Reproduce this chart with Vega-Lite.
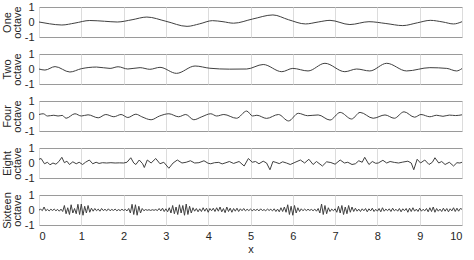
{
  "$schema": "https://vega.github.io/schema/vega-lite/v6.json",
  "padding": {"left": 0, "top": 0, "right": 12, "bottom": 4},
  "spacing": 17,
  "bounds": "flush",
  "config": {
    "font": "Liberation Sans",
    "view": {"stroke": "#9a9a9a", "strokeWidth": 1},
    "axis": {"labelFont": "Liberation Sans", "titleFont": "Liberation Sans", "labelColor": "#262626", "titleColor": "#262626", "gridColor": "#dcdcdc", "gridWidth": 1, "labelFontSize": 11, "titleFontSize": 11, "titleFontWeight": "normal", "labelOverlap": false},
    "axisY": {"labelOverlap": false, "labelFlush": false, "labelBound": false},
    "line": {"color": "#404040", "strokeWidth": 1}
  },
  "datasets": {
    "one": [
      {"x":0,"y":0},{"x":0.25,"y":-0.12},{"x":0.54,"y":-0.2},{"x":0.85,"y":-0.07},{"x":1.2,"y":0.1},{"x":1.55,"y":0.05},{"x":1.85,"y":0.0},{"x":2.2,"y":0.15},{"x":2.55,"y":0.33},{"x":3.0,"y":0.05},{"x":3.5,"y":-0.29},{"x":3.8,"y":-0.12},{"x":4.1,"y":0.09},{"x":4.35,"y":0.02},{"x":4.6,"y":-0.08},{"x":5.05,"y":0.2},{"x":5.53,"y":0.47},{"x":5.9,"y":0.15},{"x":6.3,"y":-0.13},{"x":6.6,"y":0.0},{"x":6.88,"y":0.11},{"x":7.35,"y":-0.17},{"x":7.8,"y":0.02},{"x":8.2,"y":-0.1},{"x":8.6,"y":-0.24},{"x":8.95,"y":-0.05},{"x":9.25,"y":0.11},{"x":9.55,"y":0.0},{"x":9.8,"y":-0.13},{"x":10,"y":0.02}
    ],
    "two": [
      {"x":0,"y":0},{"x":0.14,"y":-0.07},{"x":0.38,"y":0.16},{"x":0.73,"y":-0.2},{"x":1.0,"y":0.02},{"x":1.36,"y":0.13},{"x":1.68,"y":0.04},{"x":1.87,"y":0.15},{"x":2.1,"y":0.0},{"x":2.39,"y":0.09},{"x":2.62,"y":-0.02},{"x":2.86,"y":0.11},{"x":3.25,"y":-0.29},{"x":3.69,"y":0.2},{"x":4.04,"y":0.05},{"x":4.5,"y":-0.01},{"x":4.91,"y":0.0},{"x":5.3,"y":0.3},{"x":5.74,"y":-0.18},{"x":6.0,"y":0.04},{"x":6.36,"y":-0.13},{"x":6.76,"y":0.38},{"x":7.23,"y":-0.18},{"x":7.51,"y":0.0},{"x":7.82,"y":-0.13},{"x":8.22,"y":0.38},{"x":8.69,"y":-0.13},{"x":9.24,"y":0.09},{"x":9.64,"y":0.04},{"x":9.87,"y":-0.13},{"x":10,"y":0.03}
    ],
    "four": [
      {"x":0,"y":0.1},{"x":0.1,"y":0.15},{"x":0.2,"y":0.0},{"x":0.35,"y":0.05},{"x":0.45,"y":0.0},{"x":0.55,"y":0.04},{"x":0.64,"y":-0.15},{"x":0.85,"y":0.15},{"x":1.0,"y":0.0},{"x":1.16,"y":0.08},{"x":1.4,"y":-0.12},{"x":1.58,"y":0.1},{"x":1.77,"y":-0.05},{"x":1.94,"y":0.1},{"x":2.1,"y":-0.1},{"x":2.29,"y":0.12},{"x":2.43,"y":-0.05},{"x":2.65,"y":-0.25},{"x":2.85,"y":0.0},{"x":3.07,"y":0.15},{"x":3.3,"y":-0.05},{"x":3.47,"y":0.1},{"x":3.66,"y":-0.25},{"x":3.85,"y":-0.05},{"x":4.06,"y":0.15},{"x":4.2,"y":0.0},{"x":4.37,"y":0.1},{"x":4.67,"y":-0.15},{"x":4.91,"y":0.33},{"x":5.05,"y":0.0},{"x":5.15,"y":0.05},{"x":5.38,"y":-0.16},{"x":5.66,"y":0.1},{"x":5.9,"y":-0.33},{"x":6.13,"y":0.18},{"x":6.35,"y":0.02},{"x":6.6,"y":0.07},{"x":6.88,"y":-0.27},{"x":7.12,"y":0.24},{"x":7.39,"y":-0.2},{"x":7.59,"y":0.24},{"x":7.9,"y":-0.15},{"x":8.18,"y":0.07},{"x":8.4,"y":-0.15},{"x":8.63,"y":0.28},{"x":8.88,"y":-0.08},{"x":9.03,"y":0.1},{"x":9.24,"y":-0.05},{"x":9.4,"y":0.05},{"x":9.55,"y":-0.02},{"x":9.7,"y":0.06},{"x":9.85,"y":0.03},{"x":10,"y":0.08}
    ],
    "eight": [
      {"x":0,"y":0.25},{"x":0.05,"y":0.3},{"x":0.13,"y":-0.05},{"x":0.2,"y":0.05},{"x":0.26,"y":-0.12},{"x":0.33,"y":0.0},{"x":0.4,"y":-0.08},{"x":0.47,"y":0.1},{"x":0.54,"y":0.38},{"x":0.6,"y":0.02},{"x":0.66,"y":0.12},{"x":0.72,"y":-0.1},{"x":0.8,"y":0.08},{"x":0.88,"y":-0.05},{"x":0.95,"y":0.05},{"x":1.03,"y":-0.1},{"x":1.1,"y":0.05},{"x":1.19,"y":0.2},{"x":1.27,"y":-0.05},{"x":1.35,"y":0.05},{"x":1.42,"y":-0.03},{"x":1.5,"y":0.02},{"x":1.6,"y":0.0},{"x":1.7,"y":0.02},{"x":1.8,"y":0.0},{"x":1.9,"y":0.01},{"x":2.0,"y":0.0},{"x":2.08,"y":0.05},{"x":2.17,"y":0.35},{"x":2.24,"y":0.0},{"x":2.29,"y":-0.1},{"x":2.37,"y":0.2},{"x":2.45,"y":-0.05},{"x":2.49,"y":-0.3},{"x":2.56,"y":0.2},{"x":2.65,"y":0.0},{"x":2.76,"y":0.3},{"x":2.86,"y":-0.05},{"x":2.95,"y":0.05},{"x":3.07,"y":-0.35},{"x":3.17,"y":0.0},{"x":3.27,"y":0.2},{"x":3.38,"y":0.0},{"x":3.48,"y":0.05},{"x":3.58,"y":0.15},{"x":3.68,"y":0.0},{"x":3.78,"y":0.02},{"x":3.9,"y":0.15},{"x":4.0,"y":-0.02},{"x":4.06,"y":-0.05},{"x":4.15,"y":0.02},{"x":4.25,"y":0.04},{"x":4.33,"y":-0.06},{"x":4.42,"y":0.02},{"x":4.5,"y":0.1},{"x":4.6,"y":-0.03},{"x":4.73,"y":0.1},{"x":4.85,"y":-0.2},{"x":4.95,"y":0.3},{"x":5.04,"y":0.05},{"x":5.12,"y":0.1},{"x":5.2,"y":-0.05},{"x":5.3,"y":0.12},{"x":5.38,"y":0.0},{"x":5.46,"y":-0.45},{"x":5.53,"y":0.1},{"x":5.6,"y":0.04},{"x":5.68,"y":-0.04},{"x":5.76,"y":0.08},{"x":5.85,"y":0.0},{"x":5.94,"y":-0.1},{"x":6.05,"y":0.04},{"x":6.18,"y":0.2},{"x":6.28,"y":0.0},{"x":6.38,"y":0.25},{"x":6.48,"y":-0.1},{"x":6.56,"y":0.1},{"x":6.7,"y":-0.2},{"x":6.8,"y":0.08},{"x":6.9,"y":0.03},{"x":7.0,"y":-0.08},{"x":7.12,"y":0.2},{"x":7.22,"y":0.0},{"x":7.3,"y":0.05},{"x":7.4,"y":-0.1},{"x":7.48,"y":-0.05},{"x":7.56,"y":0.15},{"x":7.64,"y":0.05},{"x":7.7,"y":0.38},{"x":7.8,"y":-0.1},{"x":7.88,"y":0.1},{"x":7.96,"y":-0.02},{"x":8.02,"y":0.0},{"x":8.13,"y":0.18},{"x":8.22,"y":0.0},{"x":8.3,"y":0.1},{"x":8.4,"y":0.04},{"x":8.5,"y":0.0},{"x":8.6,"y":0.06},{"x":8.72,"y":0.12},{"x":8.8,"y":0.0},{"x":8.86,"y":-0.45},{"x":8.94,"y":0.25},{"x":9.02,"y":0.0},{"x":9.12,"y":0.2},{"x":9.22,"y":-0.1},{"x":9.3,"y":0.05},{"x":9.36,"y":0.35},{"x":9.45,"y":0.0},{"x":9.52,"y":0.1},{"x":9.6,"y":-0.1},{"x":9.7,"y":0.05},{"x":9.8,"y":-0.2},{"x":9.88,"y":0.02},{"x":9.95,"y":0.0},{"x":10,"y":0.05}
    ],
    "sixteen": [
      {"x":0,"y":0},{"x":0.04,"y":0.05},{"x":0.08,"y":-0.04},{"x":0.12,"y":0.2},{"x":0.16,"y":-0.05},{"x":0.2,"y":0.04},{"x":0.24,"y":-0.06},{"x":0.28,"y":0.05},{"x":0.32,"y":-0.03},{"x":0.36,"y":0.06},{"x":0.4,"y":-0.05},{"x":0.44,"y":0.04},{"x":0.48,"y":-0.08},{"x":0.52,"y":0.06},{"x":0.56,"y":-0.1},{"x":0.6,"y":0.3},{"x":0.64,"y":-0.25},{"x":0.68,"y":0.15},{"x":0.72,"y":-0.3},{"x":0.76,"y":0.35},{"x":0.8,"y":-0.2},{"x":0.84,"y":0.1},{"x":0.88,"y":-0.25},{"x":0.92,"y":0.38},{"x":0.96,"y":-0.3},
      {"x":1.0,"y":0.4},{"x":1.04,"y":-0.35},{"x":1.08,"y":0.25},{"x":1.12,"y":-0.2},{"x":1.16,"y":0.3},{"x":1.2,"y":-0.15},{"x":1.24,"y":0.12},{"x":1.28,"y":-0.08},{"x":1.32,"y":0.1},{"x":1.36,"y":-0.05},{"x":1.4,"y":0.06},{"x":1.44,"y":-0.08},{"x":1.48,"y":0.1},{"x":1.52,"y":-0.04},{"x":1.56,"y":0.05},{"x":1.6,"y":-0.06},{"x":1.64,"y":0.08},{"x":1.68,"y":-0.05},{"x":1.72,"y":0.04},{"x":1.76,"y":-0.03},{"x":1.8,"y":0.06},{"x":1.84,"y":-0.05},{"x":1.88,"y":0.03},{"x":1.92,"y":-0.04},{"x":1.96,"y":0.05},
      {"x":2.0,"y":-0.03},{"x":2.04,"y":0.04},{"x":2.08,"y":-0.06},{"x":2.12,"y":0.1},{"x":2.16,"y":-0.2},{"x":2.2,"y":0.38},{"x":2.24,"y":-0.3},{"x":2.28,"y":0.35},{"x":2.32,"y":-0.35},{"x":2.36,"y":0.25},{"x":2.4,"y":-0.2},{"x":2.44,"y":0.1},{"x":2.48,"y":-0.05},{"x":2.52,"y":0.03},{"x":2.56,"y":-0.02},{"x":2.6,"y":0.02},{"x":2.64,"y":-0.03},{"x":2.68,"y":0.02},{"x":2.72,"y":-0.02},{"x":2.76,"y":0.03},{"x":2.8,"y":-0.04},{"x":2.84,"y":0.1},{"x":2.88,"y":-0.06},{"x":2.92,"y":0.12},{"x":2.96,"y":-0.1},
      {"x":3.0,"y":0.08},{"x":3.04,"y":-0.12},{"x":3.08,"y":0.15},{"x":3.12,"y":-0.2},{"x":3.16,"y":0.3},{"x":3.2,"y":-0.25},{"x":3.24,"y":0.2},{"x":3.28,"y":-0.3},{"x":3.32,"y":0.35},{"x":3.36,"y":-0.2},{"x":3.4,"y":0.3},{"x":3.44,"y":-0.35},{"x":3.48,"y":0.4},{"x":3.52,"y":-0.3},{"x":3.56,"y":0.25},{"x":3.6,"y":-0.2},{"x":3.64,"y":0.15},{"x":3.68,"y":-0.08},{"x":3.72,"y":0.1},{"x":3.76,"y":-0.12},{"x":3.8,"y":0.08},{"x":3.84,"y":-0.1},{"x":3.88,"y":0.15},{"x":3.92,"y":-0.08},{"x":3.96,"y":0.12},
      {"x":4.0,"y":-0.15},{"x":4.04,"y":0.1},{"x":4.08,"y":-0.05},{"x":4.12,"y":0.12},{"x":4.16,"y":-0.1},{"x":4.2,"y":0.15},{"x":4.24,"y":-0.08},{"x":4.28,"y":0.2},{"x":4.32,"y":-0.12},{"x":4.36,"y":0.1},{"x":4.4,"y":-0.18},{"x":4.44,"y":0.2},{"x":4.48,"y":-0.1},{"x":4.52,"y":0.12},{"x":4.56,"y":-0.15},{"x":4.6,"y":0.1},{"x":4.64,"y":-0.08},{"x":4.68,"y":0.12},{"x":4.72,"y":-0.1},{"x":4.76,"y":0.08},{"x":4.8,"y":-0.05},{"x":4.84,"y":0.1},{"x":4.88,"y":-0.06},{"x":4.92,"y":0.05},{"x":4.96,"y":-0.04},
      {"x":5.0,"y":0.06},{"x":5.04,"y":-0.05},{"x":5.08,"y":0.04},{"x":5.12,"y":-0.03},{"x":5.16,"y":0.05},{"x":5.2,"y":-0.06},{"x":5.24,"y":0.08},{"x":5.28,"y":-0.04},{"x":5.32,"y":0.03},{"x":5.36,"y":-0.05},{"x":5.4,"y":0.06},{"x":5.44,"y":-0.03},{"x":5.48,"y":0.05},{"x":5.52,"y":-0.06},{"x":5.56,"y":0.08},{"x":5.6,"y":-0.1},{"x":5.64,"y":0.06},{"x":5.68,"y":-0.12},{"x":5.72,"y":0.15},{"x":5.76,"y":-0.1},{"x":5.8,"y":0.2},{"x":5.84,"y":-0.15},{"x":5.88,"y":0.35},{"x":5.92,"y":-0.3},{"x":5.96,"y":0.25},
      {"x":6.0,"y":-0.35},{"x":6.04,"y":0.3},{"x":6.08,"y":-0.2},{"x":6.12,"y":0.15},{"x":6.16,"y":-0.1},{"x":6.2,"y":0.08},{"x":6.24,"y":-0.05},{"x":6.28,"y":0.06},{"x":6.32,"y":-0.04},{"x":6.36,"y":0.05},{"x":6.4,"y":-0.03},{"x":6.44,"y":0.04},{"x":6.48,"y":-0.05},{"x":6.52,"y":0.06},{"x":6.56,"y":-0.08},{"x":6.6,"y":0.1},{"x":6.64,"y":-0.2},{"x":6.68,"y":0.4},{"x":6.72,"y":-0.3},{"x":6.76,"y":0.3},{"x":6.8,"y":-0.25},{"x":6.84,"y":0.15},{"x":6.88,"y":-0.1},{"x":6.92,"y":0.06},{"x":6.96,"y":-0.05},
      {"x":7.0,"y":0.08},{"x":7.04,"y":-0.15},{"x":7.08,"y":0.25},{"x":7.12,"y":-0.2},{"x":7.16,"y":0.3},{"x":7.2,"y":-0.3},{"x":7.24,"y":0.2},{"x":7.28,"y":-0.25},{"x":7.32,"y":0.3},{"x":7.36,"y":-0.15},{"x":7.4,"y":0.2},{"x":7.44,"y":-0.1},{"x":7.48,"y":0.12},{"x":7.52,"y":-0.08},{"x":7.56,"y":0.06},{"x":7.6,"y":-0.1},{"x":7.64,"y":0.08},{"x":7.68,"y":-0.05},{"x":7.72,"y":0.1},{"x":7.76,"y":-0.12},{"x":7.8,"y":0.08},{"x":7.84,"y":-0.06},{"x":7.88,"y":0.12},{"x":7.92,"y":-0.1},{"x":7.96,"y":0.05},
      {"x":8.0,"y":-0.08},{"x":8.04,"y":0.1},{"x":8.08,"y":-0.12},{"x":8.12,"y":0.15},{"x":8.16,"y":-0.08},{"x":8.2,"y":0.06},{"x":8.24,"y":-0.05},{"x":8.28,"y":0.08},{"x":8.32,"y":-0.1},{"x":8.36,"y":0.12},{"x":8.4,"y":-0.06},{"x":8.44,"y":0.05},{"x":8.48,"y":-0.08},{"x":8.52,"y":0.1},{"x":8.56,"y":-0.12},{"x":8.6,"y":0.08},{"x":8.64,"y":-0.05},{"x":8.68,"y":0.1},{"x":8.72,"y":-0.15},{"x":8.76,"y":0.12},{"x":8.8,"y":-0.1},{"x":8.84,"y":0.15},{"x":8.88,"y":-0.08},{"x":8.92,"y":0.06},{"x":8.96,"y":-0.1},
      {"x":9.0,"y":0.12},{"x":9.04,"y":-0.08},{"x":9.08,"y":0.05},{"x":9.12,"y":-0.06},{"x":9.16,"y":0.1},{"x":9.2,"y":-0.12},{"x":9.24,"y":0.15},{"x":9.28,"y":-0.1},{"x":9.32,"y":0.2},{"x":9.36,"y":-0.15},{"x":9.4,"y":0.1},{"x":9.44,"y":-0.08},{"x":9.48,"y":0.06},{"x":9.52,"y":-0.1},{"x":9.56,"y":0.12},{"x":9.6,"y":-0.08},{"x":9.64,"y":0.1},{"x":9.68,"y":-0.12},{"x":9.72,"y":0.08},{"x":9.76,"y":-0.06},{"x":9.8,"y":0.15},{"x":9.84,"y":-0.1},{"x":9.88,"y":0.12},{"x":9.92,"y":-0.08},{"x":9.96,"y":0.1},{"x":10.0,"y":0.05}
    ]
  },
  "vconcat": [
    {
      "width": 423, "height": 30,
      "data": {"name": "one"},
      "mark": {"type": "line", "interpolate": "monotone"},
      "encoding": {
        "x": {"field": "x", "type": "quantitative", "scale": {"domain": [0, 10], "nice": false}, "axis": {"values": [0,1,2,3,4,5,6,7,8,9,10], "labels": false, "ticks": false, "domain": false, "title": null, "grid": true}},
        "y": {"field": "y", "type": "quantitative", "scale": {"domain": [-1, 1], "nice": false}, "axis": {"values": [-1,0,1], "labelOverlap": false, "labelFlush": false, "grid": false, "ticks": false, "domain": false, "labelPadding": 5, "title": ["One", "octave"], "titlePadding": 2, "titleLineHeight": 10, "labelExpr": "datum.value < 0 ? '-1' : (datum.value > 0 ? '1' : '0')"}}
      }
    },
    {
      "width": 423, "height": 30,
      "data": {"name": "two"},
      "mark": {"type": "line", "interpolate": "monotone"},
      "encoding": {
        "x": {"field": "x", "type": "quantitative", "scale": {"domain": [0, 10], "nice": false}, "axis": {"values": [0,1,2,3,4,5,6,7,8,9,10], "labels": false, "ticks": false, "domain": false, "title": null, "grid": true}},
        "y": {"field": "y", "type": "quantitative", "scale": {"domain": [-1, 1], "nice": false}, "axis": {"values": [-1,0,1], "labelOverlap": false, "labelFlush": false, "grid": false, "ticks": false, "domain": false, "labelPadding": 5, "title": ["Two", "octave"], "titlePadding": 2, "titleLineHeight": 10, "labelExpr": "datum.value < 0 ? '-1' : (datum.value > 0 ? '1' : '0')"}}
      }
    },
    {
      "width": 423, "height": 30,
      "data": {"name": "four"},
      "mark": {"type": "line", "interpolate": "monotone"},
      "encoding": {
        "x": {"field": "x", "type": "quantitative", "scale": {"domain": [0, 10], "nice": false}, "axis": {"values": [0,1,2,3,4,5,6,7,8,9,10], "labels": false, "ticks": false, "domain": false, "title": null, "grid": true}},
        "y": {"field": "y", "type": "quantitative", "scale": {"domain": [-1, 1], "nice": false}, "axis": {"values": [-1,0,1], "labelOverlap": false, "labelFlush": false, "grid": false, "ticks": false, "domain": false, "labelPadding": 5, "title": ["Four", "octave"], "titlePadding": 2, "titleLineHeight": 10, "labelExpr": "datum.value < 0 ? '-1' : (datum.value > 0 ? '1' : '0')"}}
      }
    },
    {
      "width": 423, "height": 30,
      "data": {"name": "eight"},
      "mark": {"type": "line"},
      "encoding": {
        "x": {"field": "x", "type": "quantitative", "scale": {"domain": [0, 10], "nice": false}, "axis": {"values": [0,1,2,3,4,5,6,7,8,9,10], "labels": false, "ticks": false, "domain": false, "title": null, "grid": true}},
        "y": {"field": "y", "type": "quantitative", "scale": {"domain": [-1, 1], "nice": false}, "axis": {"values": [-1,0,1], "labelOverlap": false, "labelFlush": false, "grid": false, "ticks": false, "domain": false, "labelPadding": 5, "title": ["Eight", "octave"], "titlePadding": 2, "titleLineHeight": 10, "labelExpr": "datum.value < 0 ? '-1' : (datum.value > 0 ? '1' : '0')"}}
      }
    },
    {
      "width": 423, "height": 30,
      "data": {"name": "sixteen"},
      "mark": {"type": "line"},
      "encoding": {
        "x": {"field": "x", "type": "quantitative", "scale": {"domain": [0, 10], "nice": false}, "axis": {"values": [0,1,2,3,4,5,6,7,8,9,10], "format": "d", "labels": true, "ticks": false, "domain": false, "title": "x", "titlePadding": 2, "labelPadding": 5, "grid": true}},
        "y": {"field": "y", "type": "quantitative", "scale": {"domain": [-1, 1], "nice": false}, "axis": {"values": [-1,0,1], "labelOverlap": false, "labelFlush": false, "grid": false, "ticks": false, "domain": false, "labelPadding": 5, "title": ["Sixteen", "octave"], "titlePadding": 2, "titleLineHeight": 10, "labelExpr": "datum.value < 0 ? '-1' : (datum.value > 0 ? '1' : '0')"}}
      }
    }
  ]
}
